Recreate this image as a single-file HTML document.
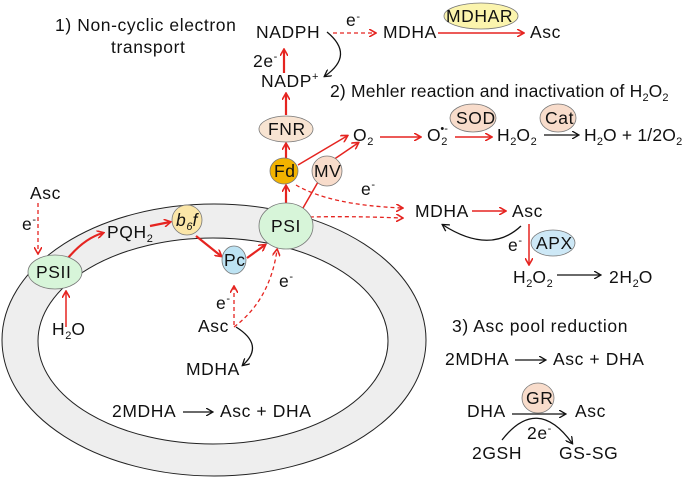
<!DOCTYPE html>
<html><head><meta charset="utf-8"><style>
body{margin:0;background:#fff}
svg text{font-family:"Liberation Sans",sans-serif;font-size:17.5px;letter-spacing:0.6px;fill:#111}
svg text tspan.s{font-size:11px;letter-spacing:0}
</style></head><body>
<svg width="685" height="479" viewBox="0 0 685 479" xmlns="http://www.w3.org/2000/svg">
<defs>
<marker id="r" markerWidth="8" markerHeight="8" refX="6" refY="4" orient="auto" markerUnits="userSpaceOnUse"><path d="M0,0 L7,4 L0,8" fill="none" stroke="#e52420" stroke-width="1.6"/></marker>
<marker id="k" markerWidth="8" markerHeight="8" refX="6" refY="4" orient="auto" markerUnits="userSpaceOnUse"><path d="M0,0 L7,4 L0,8" fill="none" stroke="#111" stroke-width="1.3"/></marker>
</defs>
<ellipse cx="214" cy="340" rx="212" ry="136" fill="#eeeeee" stroke="#222" stroke-width="1"/>
<ellipse cx="213" cy="341" rx="175" ry="103" fill="#fff" stroke="#222" stroke-width="1"/>
<g stroke="#e52420" fill="none" stroke-width="2.2">
<path d="M286 203 V186" marker-end="url(#r)"/>
<path d="M286 158 V144" marker-end="url(#r)"/>
<path d="M286 115 V94" marker-end="url(#r)"/>
<path d="M284 73 V50" marker-end="url(#r)"/>
<path d="M68 258 Q85 238 103 233" marker-end="url(#r)"/>
<path d="M150 226 L170 222" marker-end="url(#r)"/>
<path d="M196 236 L221 256" marker-end="url(#r)"/>
<path d="M247 258 L265 245" marker-end="url(#r)"/>
</g>
<g stroke="#e52420" fill="none" stroke-width="1.5">
<path d="M66 327 V292" marker-end="url(#r)"/>
<path d="M298 165 L347 136" marker-end="url(#r)"/>
<path d="M303 208 L318 182 M333 160 L358 143" marker-end="url(#r)"/>
<path d="M380 137 H420" marker-end="url(#r)"/>
<path d="M455 137 H491" marker-end="url(#r)"/>
<path d="M438 33 H523" marker-end="url(#r)"/>
<path d="M472 211 H505" marker-end="url(#r)"/>
<path d="M529 224 V264" marker-end="url(#r)"/>
</g>
<g stroke="#e52420" fill="none" stroke-width="1.3" stroke-dasharray="4,3">
<path d="M333 33 H375" marker-end="url(#r)"/>
<path d="M296 185 Q330 205 402 208" marker-end="url(#r)"/>
<path d="M310 217 Q350 216 402 218" marker-end="url(#r)"/>
<path d="M38 203 V253" marker-end="url(#r)"/>
<path d="M234 325 V287" marker-end="url(#r)"/>
<path d="M234 327 Q270 300 277 250" marker-end="url(#r)"/>
</g>
<g stroke="#111" fill="none" stroke-width="1.3">
<path d="M327 32 Q355 55 325 76" marker-end="url(#k)"/>
<path d="M521 226 Q490 255 443 225" marker-end="url(#k)"/>
<path d="M236 327 Q265 345 243 365" marker-end="url(#k)"/>
<path d="M544 135 H578" marker-end="url(#k)"/>
<path d="M557 275 H600" marker-end="url(#k)"/>
<path d="M515 360 H545" marker-end="url(#k)"/>
<path d="M183 412 H212" marker-end="url(#k)"/>
<path d="M512 414 H565" marker-end="url(#k)"/>
<path d="M502 440 Q537 395 572 443" marker-end="url(#k)"/>
</g>
<g stroke="#777" stroke-width="0.8">
<ellipse cx="55" cy="272" rx="27" ry="17" fill="#d7f5d9"/>
<ellipse cx="187" cy="220" rx="15" ry="15" fill="#fbe6a8"/>
<ellipse cx="234" cy="260" rx="12" ry="14" fill="#bde3f3"/>
<ellipse cx="286" cy="226" rx="27" ry="23" fill="#d7f5d9"/>
<ellipse cx="284" cy="171" rx="14" ry="13" fill="#f2b300"/>
<ellipse cx="327" cy="171" rx="15" ry="15" fill="#f8dccb"/>
<ellipse cx="286" cy="129" rx="27" ry="13" fill="#f8e4d2"/>
<ellipse cx="481" cy="16" rx="37" ry="13" fill="#fbf4ad"/>
<ellipse cx="473" cy="118" rx="23" ry="14" fill="#f8dccb"/>
<ellipse cx="558" cy="118" rx="18" ry="14" fill="#f8dccb"/>
<ellipse cx="553" cy="243" rx="22" ry="13" fill="#cde8f6"/>
<ellipse cx="538" cy="398" rx="16" ry="15" fill="#f8dccb"/>
</g>
<text x="55" y="31">1)  Non-cyclic electron</text>
<text x="111" y="53">transport</text>
<text x="256" y="38">NADPH</text>
<text x="346" y="26" font-size="14">e<tspan dy="-6" class="s">-</tspan></text>
<text x="383" y="38">MDHA</text>
<text x="446" y="22">MDHAR</text>
<text x="530" y="38">Asc</text>
<text x="253" y="67">2e<tspan dy="-7" class="s">-</tspan></text>
<text x="261" y="87">NADP<tspan dy="-7" class="s">+</tspan></text>
<text x="330" y="97" style="letter-spacing:0.2px">2) Mehler reaction and inactivation of H<tspan dy="4" class="s">2</tspan><tspan dy="-4">O</tspan><tspan dy="4" class="s">2</tspan></text>
<text x="268" y="135">FNR</text>
<text x="353" y="141">O<tspan dy="4" class="s">2</tspan></text>
<text x="427" y="141">O<tspan dy="4" class="s">2</tspan><tspan dx="-7" dy="-13" class="s">•-</tspan></text>
<text x="456" y="124">SOD</text>
<text x="545" y="124">Cat</text>
<text x="497" y="141">H<tspan dy="4" class="s">2</tspan><tspan dy="-4">O</tspan><tspan dy="4" class="s">2</tspan></text>
<text x="584" y="141" style="letter-spacing:0.2px">H<tspan dy="4" class="s">2</tspan><tspan dy="-4">O + 1/2O</tspan><tspan dy="4" class="s">2</tspan></text>
<text x="274" y="177">Fd</text>
<text x="314" y="177">MV</text>
<text x="361" y="195">e<tspan dy="-7" class="s">-</tspan></text>
<text x="415" y="217">MDHA</text>
<text x="512" y="217">Asc</text>
<text x="508" y="251">e<tspan dy="-7" class="s">-</tspan></text>
<text x="536" y="249">APX</text>
<text x="513" y="283">H<tspan dy="4" class="s">2</tspan><tspan dy="-4">O</tspan><tspan dy="4" class="s">2</tspan></text>
<text x="609" y="283">2H<tspan dy="4" class="s">2</tspan><tspan dy="-4">O</tspan></text>
<text x="452" y="332">3) Asc pool reduction</text>
<text x="445" y="365">2MDHA</text>
<text x="553" y="365">Asc + DHA</text>
<text x="467" y="417">DHA</text>
<text x="575" y="417">Asc</text>
<text x="526" y="404">GR</text>
<text x="527" y="439">2e<tspan dy="-7" class="s">-</tspan></text>
<text x="472" y="459">2GSH</text>
<text x="559" y="459">GS-SG</text>
<text x="30" y="199">Asc</text>
<text x="22" y="230">e<tspan dy="-7" class="s">-</tspan></text>
<text x="107" y="238">PQH<tspan dy="4" class="s">2</tspan></text>
<text x="176" y="226" font-style="italic">b<tspan dy="4" class="s">6</tspan><tspan dy="-4">f</tspan></text>
<text x="224" y="266">Pc</text>
<text x="271" y="232">PSI</text>
<text x="36" y="278">PSII</text>
<text x="52" y="335">H<tspan dy="4" class="s">2</tspan><tspan dy="-4">O</tspan></text>
<text x="216" y="309">e<tspan dy="-7" class="s">-</tspan></text>
<text x="279" y="287">e<tspan dy="-7" class="s">-</tspan></text>
<text x="198" y="332">Asc</text>
<text x="186" y="375">MDHA</text>
<text x="112" y="417">2MDHA</text>
<text x="220" y="417">Asc + DHA</text>
</svg>
</body></html>
